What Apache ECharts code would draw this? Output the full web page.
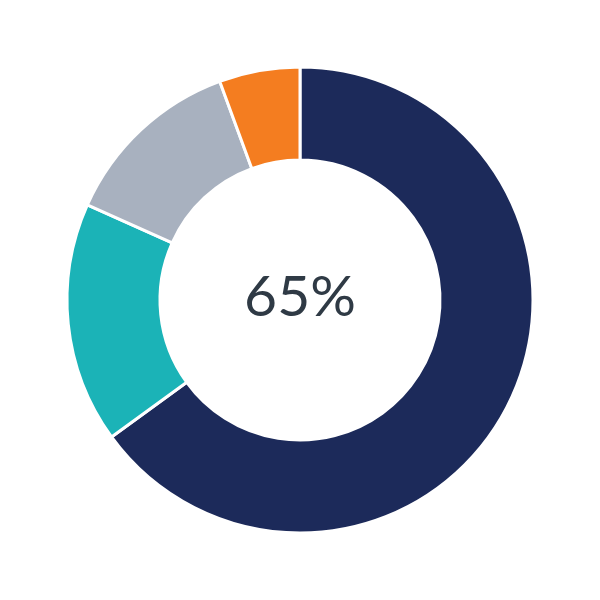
<!DOCTYPE html>
<html>
<head>
<meta charset="utf-8">
<script src="https://cdn.jsdelivr.net/npm/echarts@6/dist/echarts.min.js"></script>
<style>
  html, body { margin: 0; padding: 0; background: #fff; }
  #chart { width: 600px; height: 600px; }
</style>
</head>
<body>
<div id="chart"></div>
<script>
'use strict';
// 数据
const categories = ['A', 'B', 'C', 'D'];
const values = [65, 16.7, 12.7, 5.6];
const colors = ['#1c2a5a', '#1bb3b7', '#a8b1bf', '#f47d20'];
const centerLabel = '65%';

const chart = echarts.init(document.getElementById('chart'));
chart.setOption({
    animation: false,
    title: {
        text: centerLabel,
        left: 'center',
        top: 264,
        textStyle: {
            fontFamily: 'Lato',
            fontWeight: 'normal',
            fontSize: 57,
            color: '#2f3a45'
        }
    },
    series: [{
        type: 'pie',
        center: ['50%', '50%'],
        radius: [140, 233],
        startAngle: 90,
        clockwise: true,
        label: { show: false },
        labelLine: { show: false },
        emphasis: { disabled: true },
        itemStyle: {
            borderColor: '#fff',
            borderWidth: 3
        },
        data: categories.map((name, i) => ({
            name: name,
            value: values[i],
            itemStyle: { color: colors[i] }
        }))
    }]
});
</script>
</body>
</html>
